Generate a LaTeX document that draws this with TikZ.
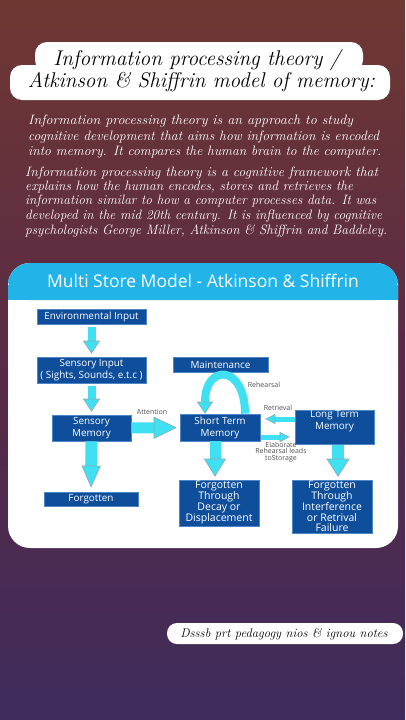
\documentclass[tikz,border=0pt]{standalone}
\usepackage{fontspec}
\usepackage{graphicx}
\newfontfamily\osans{Open Sans}
\usetikzlibrary{arrows.meta}
\newcommand{\fitw}[2]{\resizebox{#1}{\height}{#2}}
\definecolor{bgtop}{HTML}{6E3832}
\definecolor{bgmid}{HTML}{5A2A46}
\definecolor{bgbot}{HTML}{3E2C5C}
\definecolor{hdr}{HTML}{22B4E8}
\definecolor{boxblue}{HTML}{0E4E9B}
\definecolor{boxedge}{HTML}{4E86C8}
\definecolor{arr}{HTML}{3FE0F2}
\definecolor{tipedge}{HTML}{8FA8AA}
\definecolor{lbl}{HTML}{505050}
\begin{document}
\begin{tikzpicture}[x=1pt,y=-1pt,
  mbox/.style={draw=boxedge, line width=0.6pt, fill=boxblue, text=white,
    font=\osans\fontsize{9.9}{12}\selectfont, align=center, inner sep=0pt},
  small/.style={text=lbl, font=\osans\fontsize{7}{6.2}\selectfont, align=center, inner sep=0pt},
  script/.style={text=white, font=\itshape\fontsize{13.6}{15.5}\selectfont, anchor=base west, inner sep=0pt},
  ttl/.style={font=\itshape\fontsize{21.3}{23}\selectfont, anchor=base, inner sep=0pt},
  pill/.style={fill=white, rounded corners=12pt},
  blk/.style={draw=arr, line width=#1}
]
\useasboundingbox (0,0) rectangle (405,720);
\shade[top color=bgtop, bottom color=bgbot, middle color=bgmid] (0,0) rectangle (405,720);

% title cloud
\fill[pill] (35,42) rectangle (363,72);
\fill[pill] (10,65) rectangle (390,100);
\node[ttl] (title1) at (197,65) {\fitw{287pt}{Information processing theory /}};
\node[ttl] (title2) at (201.5,87) {\fitw{347pt}{Atkinson \& Shiffrin model of memory:}};

\node[script] (p1a) at (28,124) {\fitw{325pt}{Information processing theory is an approach to study}};
\node[script] (p1b) at (28,140) {\fitw{351pt}{cognitive development that aims how information is encoded}};
\node[script] (p1c) at (28,155) {\fitw{353pt}{into memory. It compares the human brain to the computer.}};

\node[script] (p2a) at (25,176) {\fitw{353pt}{Information processing theory is a cognitive framework that}};
\node[script] (p2b) at (25,190) {\fitw{328pt}{explains how the human encodes, stores and retrieves the}};
\node[script] (p2c) at (25,204) {\fitw{351pt}{information similar to how a computer processes data. It was}};
\node[script] (p2d) at (25,219) {\fitw{357pt}{developed in the mid 20th century. It is influenced by cognitive}};
\node[script] (p2e) at (25,234) {\fitw{362pt}{psychologists George Miller, Atkinson \& Shiffrin and Baddeley.}};

% panel
\fill[white, rounded corners=22pt] (8,263) rectangle (398,548);
\fill[hdr, rounded corners=22pt] (8,263) -- (398,263) -- (398,300) -- (8,300) -- cycle;
\fill[hdr] (8,285) rectangle (398,300);
\node[text=white, font=\osans\fontsize{17.5}{20}\selectfont, inner sep=0pt] (ptitle) at (203,281)
  {Multi Store Model - Atkinson \& Shiffrin};

% boxes
\node[mbox, minimum width=109pt, minimum height=15pt] (env) at (91.5,316.5) {Environmental Input};
\node[mbox, minimum width=109pt, minimum height=26pt] (sin) at (91.5,370) {Sensory Input\\( Sights, Sounds, e.t.c )};
\node[mbox, minimum width=79pt, minimum height=26pt] (sm) at (91.5,428) {Sensory\\Memory};
\node[mbox, minimum width=94pt, minimum height=14pt] (forg) at (91,499) {Forgotten};
\node[mbox, minimum width=95pt, minimum height=15pt] (maint) at (220.5,364.5) {Maintenance};
\node[mbox, minimum width=80pt, minimum height=27pt] (stm) at (220,427.5) {Short Term\\Memory};
\node[mbox, minimum width=79pt, minimum height=27pt] (ltm) at (334.5,427.5) {Long Term\\Memory\\[3pt]};
\node[mbox, minimum width=80pt, minimum height=46pt, font=\osans\fontsize{10.5}{11}\selectfont] (dec) at (219,503)
  {Forgotten\\Through\\Decay or\\Displacement};
\node[mbox, minimum width=80pt, minimum height=53pt, font=\osans\fontsize{10.5}{10.8}\selectfont] (intf) at (332,506.5)
  {Forgotten\\Through\\Interference\\or Retrival\\Failure};

% arrows
\draw[blk=8pt, -{Triangle[width=17pt,length=13pt,fill=arr,color=tipedge,line width=0.6pt]},
  shorten <=3pt, shorten >=3pt] (env) -- (sin);
\draw[blk=8pt, -{Triangle[width=17pt,length=13pt,fill=arr,color=tipedge,line width=0.6pt]},
  shorten <=3pt, shorten >=3pt] (sin) -- (sm);
\draw[blk=12pt, -{Triangle[width=19pt,length=22pt,fill=arr,color=tipedge,line width=0.6pt]},
  shorten >=4pt] (sm) -- (forg);
\draw[blk=11pt, -{Triangle[width=22pt,length=23pt,fill=arr,color=tipedge,line width=0.6pt]},
  shorten >=3pt] (sm) -- (stm);
\draw[blk=11pt, -{Triangle[width=22pt,length=18pt,fill=arr,color=tipedge,line width=0.6pt]},
  shorten >=3pt] ([xshift=-5pt]stm.south) -- ([xshift=-4pt]dec.north);
\draw[blk=12pt, -{Triangle[width=23pt,length=18pt,fill=arr,color=tipedge,line width=0.6pt]},
  shorten >=3pt] ([xshift=3.5pt]ltm.south) -- ([xshift=6pt]intf.north);
\draw[blk=5pt, -{Triangle[width=10pt,length=10pt,fill=arr,color=tipedge,line width=0.5pt]},
  shorten >=5pt] ([yshift=8.5pt]ltm.west) -- ([yshift=8.5pt]stm.east);
\draw[blk=5pt, -{Triangle[width=10pt,length=10pt,fill=arr,color=tipedge,line width=0.5pt]},
  shorten <=1pt, shorten >=5pt] ([yshift=-9.5pt]stm.east) -- ([yshift=-9.5pt]ltm.west);
\draw[blk=8pt, -{Triangle[width=16pt,length=12pt,fill=arr,color=tipedge,line width=0.6pt]}]
  ([xshift=25pt]stm.north) .. controls +(0,-50) and +(0,-50) .. ([xshift=-15pt]stm.north);

% labels
\node[small] (latt) at (152,412) {Attention};
\node[small] (lreh) at (264,385) {Rehearsal};
\node[small] (lret) at (278,408) {Retrieval};
\node[small] (lela) at (281,452) {Elaborate\\Rehearsal leads\\toStorage};

% footer
\fill[pill, rounded corners=10pt] (167,623) rectangle (403,644);
\node[font=\itshape\fontsize{12.6}{14}\selectfont, inner sep=0pt] (foot) at (284,634)
  {Dsssb prt pedagogy nios \& ignou notes};
\end{tikzpicture}
\end{document}
